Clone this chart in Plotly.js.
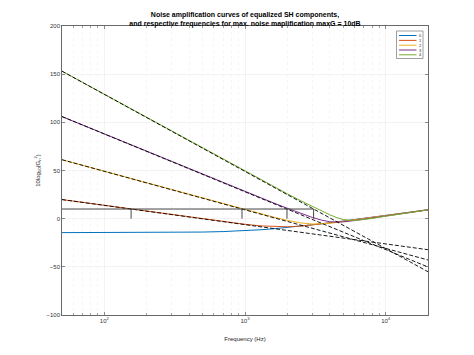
<!DOCTYPE html>
<html>
<head>
<meta charset="utf-8">
<script src="https://cdn.plot.ly/plotly-3.0.1.min.js"></script>
<style>html,body{margin:0;padding:0;background:#fff;}#chart{width:474px;height:355px;}</style>
</head>
<body>
<div id="chart"></div>
<script>
// Frequencies (Hz) at which curves were read
const freq = [50,100,200,300,500,700,1000,1300,1600,2000,2500,3000,3500,4000,4500,5000,6000,7000,8000,10000,12500,15000,20000];
// Noise amplification 10log10(G_n^2) in dB, orders 0..4
const G0 = [-14.49,-14.47,-14.40,-14.28,-13.90,-13.39,-12.48,-11.49,-10.49,-9.23,-7.78,-6.49,-5.34,-4.30,-3.37,-2.52,-1.02,0.27,1.40,3.29,5.21,6.78,9.26];
const G1 = [19.82,13.80,7.78,4.26,-0.16,-3.01,-5.84,-7.51,-8.31,-8.42,-7.71,-6.66,-5.58,-4.55,-3.59,-2.72,-1.18,0.14,1.30,3.23,5.16,6.74,9.24];
const G2 = [61.18,49.15,37.11,30.08,21.25,15.47,9.39,4.99,1.60,-1.80,-4.48,-5.54,-5.45,-4.81,-3.97,-3.11,-1.51,-0.12,1.08,3.09,5.07,6.68,9.21];
const G3 = [105.96,87.90,69.85,59.30,46.03,37.32,28.15,21.48,16.27,10.78,5.44,1.36,-1.53,-3.14,-3.59,-3.31,-1.97,-0.54,0.74,2.86,4.93,6.58,9.15];
const G4 = [153.10,129.02,104.95,90.87,73.16,61.52,49.24,40.27,33.25,25.80,18.51,12.71,7.97,4.08,1.06,-0.96,-1.99,-1.03,0.26,2.53,4.72,6.44,9.07];
// Low-frequency asymptotes (dashed), endpoints
const asymFreq = [50, 20000];
const asym1 = [19.82, -32.22];
const asym2 = [61.19, -42.90];
const asym3 = [105.96, -50.16];
const asym4 = [153.10, -55.07];
// Max noise amplification and frequencies where it is reached
const maxG = 10;
const crossFreq = [155, 952, 1988, 3074];
// Labels
const seriesNames = ['0','1','2','3','4'];
const seriesColors = ['#0072BD','#D95319','#EDB120','#7E2F8E','#77AC30'];
const xTickVals = [100, 1000, 10000];
const xTickText = ['10<sup>2</sup>','10<sup>3</sup>','10<sup>4</sup>'];
const xMinorVals = [60,70,80,90,200,300,400,500,600,700,800,900,2000,3000,4000,5000,6000,7000,8000,9000];
const yTickVals = [-100,-50,0,50,100,150,200];

const curves = [G0,G1,G2,G3,G4];
const traces = [];
curves.forEach((g,i)=>{
  traces.push({x:freq, y:g, type:'scatter', mode:'lines', name:seriesNames[i],
    line:{color:seriesColors[i], width:1}, showlegend:false});
});
[asym1,asym2,asym3,asym4].forEach(a=>{
  traces.push({x:asymFreq, y:a, type:'scatter', mode:'lines',
    line:{color:'#000', width:0.9, dash:'4px,2px'}, showlegend:false});
});
// horizontal maxG line
traces.push({x:[asymFreq[0], crossFreq[crossFreq.length-1]], y:[maxG,maxG], type:'scatter', mode:'lines',
  line:{color:'#444', width:1}, showlegend:false});
// vertical marks
const vx=[], vy=[];
crossFreq.forEach(f=>{vx.push(f,f,null); vy.push(maxG,0,null);});
traces.push({x:vx, y:vy, type:'scatter', mode:'lines', line:{color:'#333', width:0.9}, showlegend:false, connectgaps:false});

// manual legend
const L=62, R=428, T=26, B=315;
const px = p => (p-L)/(R-L);
const py = p => (B-p)/(B-T);
const shapes = [{type:'rect', xref:'paper', yref:'paper', x0:px(396.5), x1:px(423), y0:py(31), y1:py(58.5),
  line:{color:'#888', width:0.8}, fillcolor:'#fff', layer:'above'}];
const annotations = [];
const legY = [35.5, 40.4, 45.2, 50.0, 54.8];
seriesNames.forEach((n,i)=>{
  shapes.push({type:'line', xref:'paper', yref:'paper', x0:px(399), x1:px(416.5), y0:py(legY[i]), y1:py(legY[i]),
    line:{color:seriesColors[i], width:1}, layer:'above'});
  annotations.push({xref:'paper', yref:'paper', x:px(418), y:py(legY[i]), text:n, showarrow:false,
    xanchor:'left', yanchor:'middle', borderpad:0, font:{size:4, color:'#222'}});
});

const layout = {
  width:474, height:355,
  margin:{l:L, r:474-R, t:T, b:355-B, pad:0},
  paper_bgcolor:'#fff', plot_bgcolor:'#fff',
  font:{family:'Liberation Sans, Arial, sans-serif', color:'#222'},
  showlegend:false,
  title:{text:'<b>Noise amplification curves of equalized SH components,</b><br><b>and respective frequencies for max. noise maplification maxG = 10dB</b>',
    font:{size:7, color:'#000'}, x:0.5, xref:'paper', xanchor:'center', y:1-16.5/355, yref:'container', yanchor:'middle'},
  xaxis:{type:'log', range:[Math.log10(50), Math.log10(20000)], tickmode:'array', tickvals:xTickVals, ticktext:xTickText,
    ticks:'inside', ticklen:3, tickwidth:0.6, tickcolor:'#444', mirror:'ticks', showline:true, linecolor:'#444', linewidth:0.8,
    showgrid:true, gridcolor:'#ebebeb', gridwidth:0.6, zeroline:false,
    minor:{tickmode:'array', tickvals:xMinorVals, ticks:'inside', ticklen:1.8, tickcolor:'#444', tickwidth:0.5,
      showgrid:true, gridcolor:'#eeeeee', griddash:'dot', gridwidth:0.5},
    tickfont:{size:6, color:'#333'},
    title:{text:'Frequency (Hz)', font:{size:6, color:'#222'}, standoff:13}},
  yaxis:{range:[-100,200], tickmode:'array', tickvals:yTickVals,
    ticks:'inside', ticklen:3, tickwidth:0.6, tickcolor:'#444', mirror:'ticks', showline:true, linecolor:'#444', linewidth:0.8,
    showgrid:true, gridcolor:'#ebebeb', gridwidth:0.6, zeroline:false,
    tickfont:{size:6, color:'#333'},
    title:{text:'10log<sub>10</sub>(G<sub>n</sub><sup>2</sup>)', font:{size:6, color:'#222'}, standoff:5}},
  shapes:shapes, annotations:annotations
};
Plotly.newPlot('chart', traces, layout, {staticPlot:true, displayModeBar:false});
</script>
</body>
</html>
